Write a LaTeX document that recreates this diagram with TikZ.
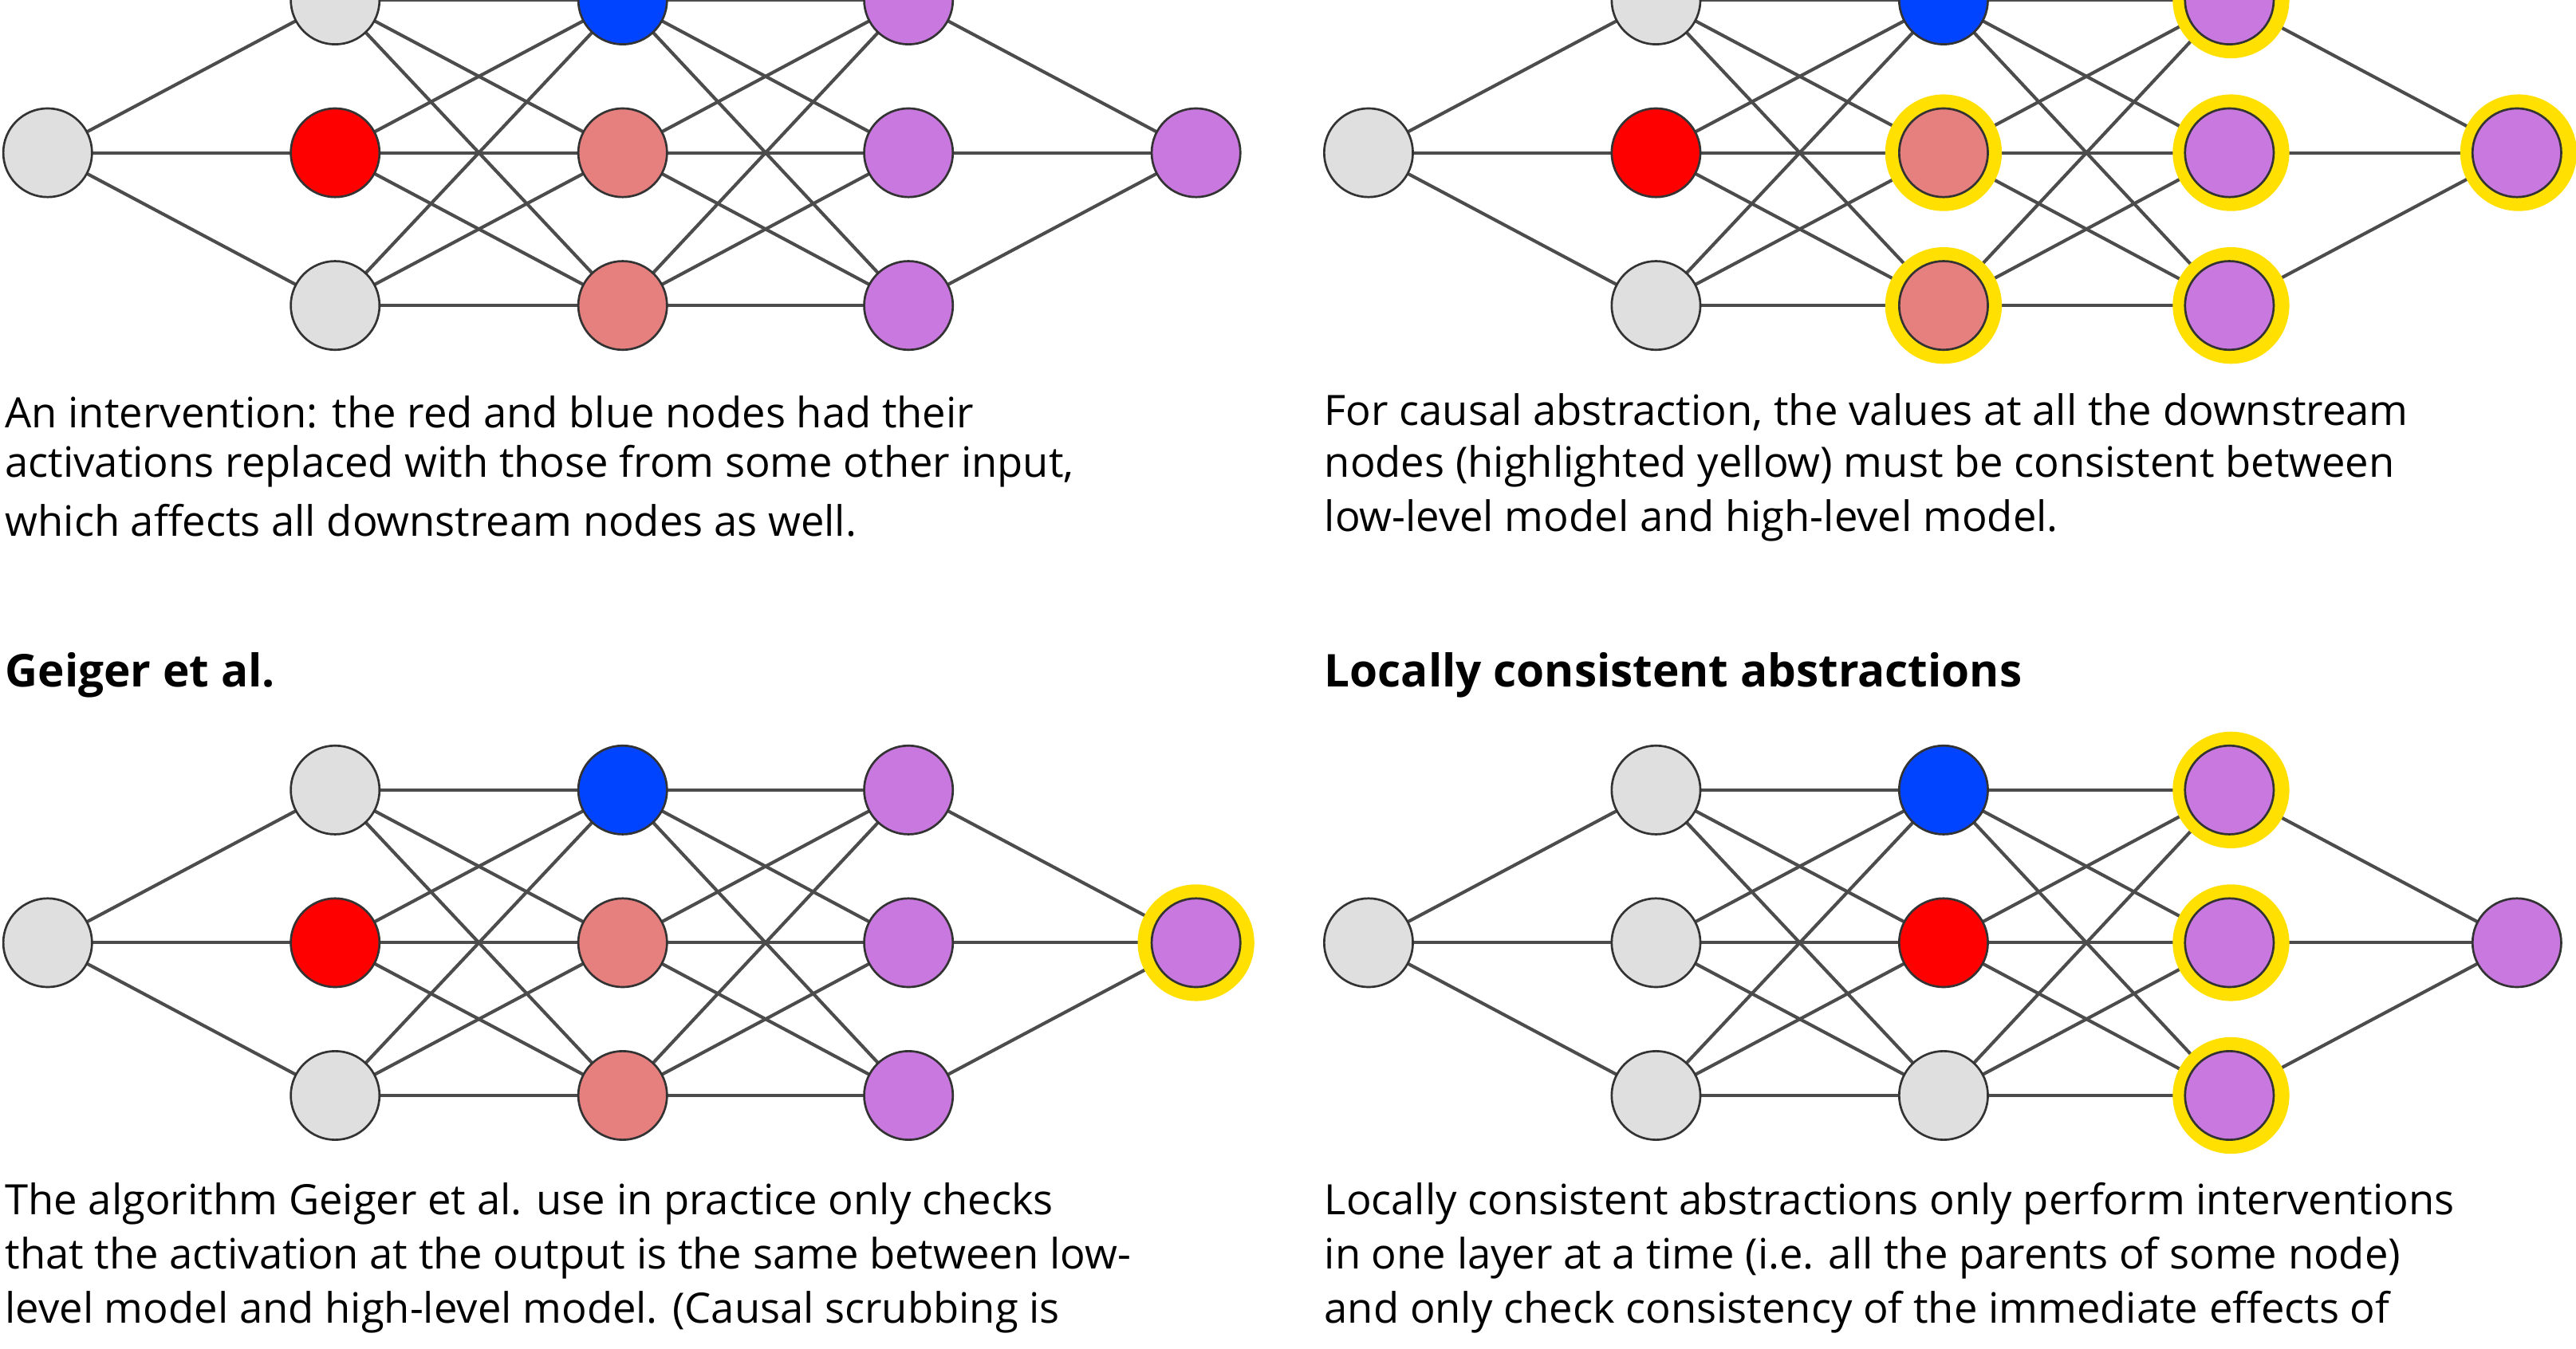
\documentclass[tikz,border=0pt]{standalone}
\usepackage{fontspec}
\setmainfont{Open Sans}
\begin{document}
\begin{tikzpicture}[x=1pt,y=-1pt,
  nd/.style={circle,draw=black!80,line width=1.3pt,minimum size=54pt,inner sep=0pt},
  gr/.style={nd,fill=gray!25},
  rd/.style={nd,fill=red},
  bl/.style={nd,fill={rgb,255:red,0;green,68;blue,255}},
  sa/.style={nd,fill={rgb,255:red,230;green,128;blue,126}},
  pu/.style={nd,fill={rgb,255:red,201;green,120;blue,224}},
  ringc/.style={draw={rgb,255:red,255;green,224;blue,0},line width=9pt},
  ed/.style={draw=black!70,line width=2pt},
  txt/.style={anchor=west,inner sep=0pt,font=\fontsize{25.5}{33}\selectfont},
  hd/.style={anchor=west,inner sep=0pt,font=\fontsize{27.5}{33}\selectfont\bfseries}]
\useasboundingbox (0,0) rectangle (1568,821);
\newcommand\net[5]{%
 \begin{scope}[shift={(#2,#3)}]
 \foreach \s [count=\i] in {#4} {\node[\s] (#1a\i) at (204,{(\i-1)*93}) {};}
 \foreach \s [count=\i] in {#5} {\node[\s] (#1b\i) at (379,{(\i-1)*93}) {};}
 \foreach \i in {1,2,3} {\node[pu] (#1c\i) at (553,{(\i-1)*93}) {};}
 \node[gr] (#1in) at (29,93) {};
 \node[pu] (#1out) at (728,93) {};
 \end{scope}}
\newcommand\edges[2]{%
 \begin{scope}[shift={(#1,#2)}]
 \foreach \i in {1,2,3}{
   \draw[ed] (29,93) -- (204,{(\i-1)*93});
   \draw[ed] (553,{(\i-1)*93}) -- (728,93);
   \foreach \j in {1,2,3}{
     \draw[ed] (204,{(\i-1)*93}) -- (379,{(\j-1)*93});
     \draw[ed] (379,{(\i-1)*93}) -- (553,{(\j-1)*93});}}
 \end{scope}}
\edges{0}{0}
\edges{804}{0}
\edges{0}{481}
\edges{804}{481}
\foreach \p in {(1183,93),(1183,186),(1358,0),(1358,93),(1358,186),(1533,93),(728,574),(1358,481),(1358,574),(1358,667)}
  \draw[ringc] \p circle (31pt);
\net{A}{0}{0}{gr,rd,gr}{bl,sa,sa}
\net{B}{804}{0}{gr,rd,gr}{bl,sa,sa}
\net{C}{0}{481}{gr,rd,gr}{bl,sa,sa}
\net{D}{804}{481}{gr,gr,gr}{bl,rd,gr}
\node[txt] (t1) at (3,251) {An intervention: the red and blue nodes had their};
\node[txt] (t2) at (3,284) {activations replaced with those from some other input,};
\node[txt] (t3) at (3,317) {which affects all downstream nodes as well.};
\node[txt] (u1) at (806,251) {For causal abstraction, the values at all the downstream};
\node[txt] (u2) at (806,284) {nodes (highlighted yellow) must be consistent between};
\node[txt] (u3) at (806,317) {low-level model and high-level model.};
\node[hd] (h1) at (3,411) {Geiger et al.};
\node[hd] (h2) at (806,411) {Locally consistent abstractions};
\node[txt] (v1) at (3,733) {The algorithm Geiger et al. use in practice only checks};
\node[txt] (v2) at (3,766) {that the activation at the output is the same between low-};
\node[txt] (v3) at (3,799) {level model and high-level model. (Causal scrubbing is};
\node[txt] (w1) at (806,733) {Locally consistent abstractions only perform interventions};
\node[txt] (w2) at (806,766) {in one layer at a time (i.e. all the parents of some node)};
\node[txt] (w3) at (806,799) {and only check consistency of the immediate effects of};
\end{tikzpicture}
\end{document}
